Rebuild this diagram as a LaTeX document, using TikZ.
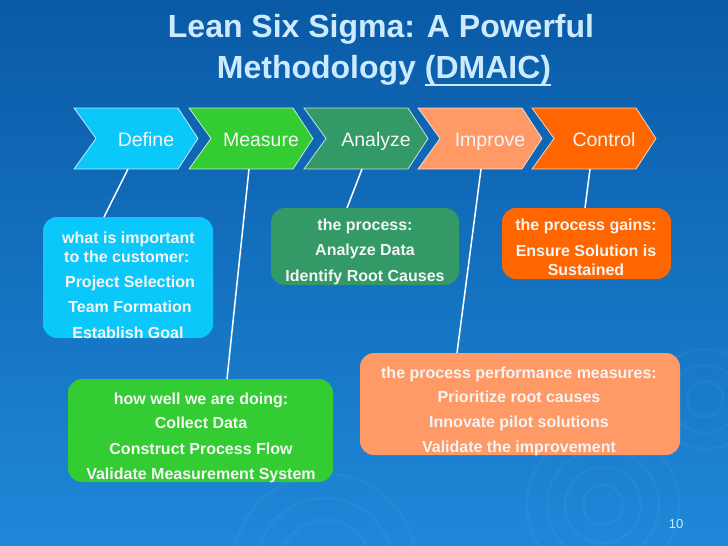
\documentclass[tikz,border=0pt]{standalone}
\usepackage{fontspec}
\setmainfont{Liberation Sans}
\usetikzlibrary{calc}
\definecolor{bgtop}{RGB}{10,90,166}
\definecolor{bgbot}{RGB}{30,136,216}
\definecolor{cDef}{RGB}{10,200,250}
\definecolor{cMea}{RGB}{51,204,51}
\definecolor{cAna}{RGB}{51,153,102}
\definecolor{cImp}{RGB}{255,153,102}
\definecolor{cCon}{RGB}{255,102,0}
\definecolor{titlec}{RGB}{205,235,255}
\definecolor{txt}{RGB}{245,245,245}
\newcommand\myul[1]{\setbox0\hbox{#1}\rlap{\raisebox{-8pt}{\rule{\wd0}{2pt}}}\box0}
\tikzset{
  chev/.style={draw=white, draw opacity=0.75, line width=0.8pt, line join=miter},
  chevtext/.style={anchor=base, inner sep=0pt, text=txt, font=\fontsize{19.5}{23}\selectfont},
  titletext/.style={anchor=base, inner sep=0pt, text=titlec, font=\fontsize{32}{39}\selectfont\bfseries},
  box/.style={rounded corners=14pt, inner sep=0pt, outer sep=0pt, anchor=north west},
  btxt/.style={anchor=base, inner sep=0pt, text=txt, font=\fontsize{16}{19}\selectfont\bfseries},
  conn/.style={draw=white, line width=1.5pt},
  ripple/.style={draw=white, draw opacity=0.035, line width=3pt}
}
\begin{document}
\begin{tikzpicture}[x=1pt,y=-1pt]
\useasboundingbox (0,0) rectangle (728,546);
\shade[top color=bgtop, bottom color=bgbot] (0,0) rectangle (728,546);
% faint ripples
\begin{scope}
\clip (0,0) rectangle (728,546);
\foreach \r in {20,38,56,76} \draw[ripple] (603,505) circle (\r);
\foreach \r in {46,68,92} \draw[ripple] (325,566) circle (\r);
\foreach \r in {18,34,50} \draw[ripple] (705,399) circle (\r);
\end{scope}

% title
\node[titletext] (t1) at (381,37) {Lean Six Sigma: A Powerful};
\node[titletext] (t2) at (384,78) {Methodology \myul{(DMAIC)}};

% chevrons
\foreach \s/\c/\t/\n in {74/cDef/Define/sdef, 189/cMea/Measure/smea, 304/cAna/Analyze/sana, 418/cImp/Improve/simp, 532/cCon/Control/scon}{
  \path[chev, fill=\c] (\s,108) -- ++(104,0) -- ++(20,30.5) -- ++(-20,30.5) -- ++(-104,0) -- ++(22,-30.5) -- cycle;
  \node[chevtext] (\n) at (\s+72,146) {\t};
}
\coordinate (pdef) at (128,169);
\coordinate (pmea) at (249,169);
\coordinate (pana) at (362,169);
\coordinate (pimp) at (481,169);
\coordinate (pcon) at (590,169);

% boxes
\node[box, fill=cDef, minimum width=170pt, minimum height=121pt] (dbox) at (43,217) {};
\node[box, fill=cMea, minimum width=265pt, minimum height=103pt] (mbox) at (68,379) {};
\node[box, fill=cAna, minimum width=188pt, minimum height=77pt] (abox) at (271,208) {};
\node[box, fill=cImp, minimum width=320pt, minimum height=102pt] (ibox) at (360,353) {};
\node[box, fill=cCon, minimum width=169pt, minimum height=71pt] (cbox) at (502,208) {};

% connectors
\draw[conn] (pdef) -- ($(dbox.north west)+(61,0)$);
\draw[conn] (pmea) -- ($(mbox.north west)+(159,0)$);
\draw[conn] (pana) -- ($(abox.north west)+(76,0)$);
\draw[conn] (pimp) -- ($(ibox.north west)+(97,0)$);
\draw[conn] (pcon) -- ($(cbox.north west)+(83,0)$);

% Define box text
\node[btxt, anchor=base west] (d1) at (62,243.5) {what is important};
\node[btxt, anchor=base west] (d2) at (64,262.5) {to the customer:};
\node[btxt] (d3) at (130,287.5) {Project Selection};
\node[btxt] (d4) at (130,312.5) {Team Formation};
\node[btxt] (d5) at (128,338.5) {Establish Goal};

% Measure box text
\node[btxt] (m1) at (201,404.5) {how well we are doing:};
\node[btxt] (m2) at (201,428.5) {Collect Data};
\node[btxt] (m3) at (201,454.5) {Construct Process Flow};
\node[btxt] (m4) at (201,479.5) {Validate Measurement System};

% Analyze box text
\node[btxt] (a1) at (365,230.5) {the process:};
\node[btxt] (a2) at (365,255.5) {Analyze Data};
\node[btxt] (a3) at (365,281.5) {Identify Root Causes};

% Improve box text
\node[btxt] (i1) at (519,378.5) {the process performance measures:};
\node[btxt] (i2) at (519,402.5) {Prioritize root causes};
\node[btxt] (i3) at (519,427.5) {Innovate pilot solutions};
\node[btxt] (i4) at (519,452.5) {Validate the improvement};

% Control box text
\node[btxt] (c1) at (586,230.5) {the process gains:};
\node[btxt] (c2) at (586,256.5) {Ensure Solution is};
\node[btxt] (c3) at (586,275.5) {Sustained};

% page number
\node[anchor=base, inner sep=0pt, text=titlec, font=\fontsize{13}{15}\selectfont] (pg) at (676,528) {10};
\end{tikzpicture}
\end{document}
